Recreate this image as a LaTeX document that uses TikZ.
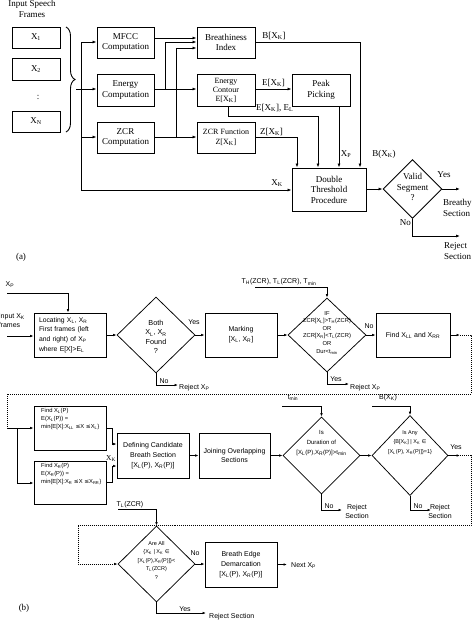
\documentclass[tikz,border=0pt]{standalone}
\usepackage{fontspec}
\setmainfont{Liberation Serif}
\setsansfont{Liberation Sans}
\newfontfamily\dejavu{DejaVu Sans}
\usetikzlibrary{arrows.meta,shapes.geometric,decorations.pathreplacing}
\newcommand{\sbs}[1]{\textsubscript{#1}}
\newcommand{\myle}{{\dejavu ≤}}
\newcommand{\myin}{{\dejavu ∈}}
\begin{document}
\begin{tikzpicture}[x=1pt,y=-1pt,
  lna/.style={line width=0.9pt},
  arra/.style={lna,-{Latex[length=4pt,width=3pt]}},
  lnb/.style={line width=0.75pt},
  arrb/.style={lnb,-{Latex[length=3.5pt,width=2.6pt]}},
  dotb/.style={lnb,dash pattern=on 1pt off 1pt},
  boxa/.style={draw,lna,inner sep=0pt,align=center,font=\fontsize{9}{10.5}\selectfont},
  boxb/.style={draw,lnb,inner sep=0pt,align=center,font=\sffamily\fontsize{7}{9.8}\selectfont},
  diaa/.style={draw,lna,diamond,inner sep=0pt},
  diab/.style={draw,lnb,diamond,inner sep=0pt},
  ta/.style={inner sep=0pt,align=center,font=\fontsize{9}{10.5}\selectfont},
  tb/.style={inner sep=0pt,align=center,font=\sffamily\fontsize{7}{9.6}\selectfont},
]
\useasboundingbox (0,0) rectangle (474,622);
\clip (0,0) rectangle (474,622);

% ---------------- (a) ----------------
\node[ta] (title) at (32,9) {Input Speech\\Frames};
\node[boxa,minimum width=48,minimum height=21] (x1) at (36,37.5) {X\sbs{1}};
\node[boxa,minimum width=48,minimum height=22] (x2) at (36,69) {X\sbs{2}};
\node[ta] (dots) at (38,97) {:};
\node[boxa,minimum width=48,minimum height=21] (xn) at (36,121.5) {X\sbs{N}};
\draw[lna,decorate,decoration={brace,amplitude=9pt}] (66,27) -- (66,132);

\coordinate (btip) at (76,89);
\coordinate (bus1) at (81,42);
\coordinate (bus3) at (81,190);

\node[boxa,minimum width=57,minimum height=31] (mfcc) at (125.5,42.5) {MFCC\\Computation};
\node[boxa,minimum width=57,minimum height=32] (energy) at (125.5,90) {Energy\\Computation};
\node[boxa,minimum width=57,minimum height=31] (zcr) at (125.5,137.5) {ZCR\\Computation};
\node[boxa,minimum width=58,minimum height=31] (breath) at (226,42.5) {Breathiness\\Index};
\node[boxa,minimum width=58,minimum height=32,font=\fontsize{8}{9}\selectfont] (contour) at (226,90) {Energy\\Contour\\E[X\sbs{K}]};
\node[boxa,minimum width=58,minimum height=31,font=\fontsize{8}{9.5}\selectfont] (zcrf) at (226,137.5) {ZCR Function\\Z[X\sbs{K}]};
\node[boxa,minimum width=58,minimum height=32] (peak) at (321,90) {Peak\\Picking};
\node[boxa,minimum width=74,minimum height=43] (dtp) at (329,189.5) {Double\\Threshold\\Procedure};
\node[diaa,minimum width=59,minimum height=59] (valid) at (412.5,189) {};
\node[ta] (validt) at (412.5,187) {Valid\\Segment\\?};

\draw[arra] (btip) -- (btip -| energy.west);
\draw[lna] (bus1) -- (bus3);
\draw[arra] (bus1) -- (bus1 -| mfcc.west);
\draw[arra] (bus1 |- 0,137) -- (zcr.west |- 0,137);
\draw[arra] (bus3) -- (bus3 -| dtp.west);
\draw[arra] (mfcc.east |- 0,38) -- (breath.west |- 0,38);
\draw[arra] (energy.east |- 0,89) -- (contour.west |- 0,89);
\coordinate (j1) at (165,89);
\draw[arra] (j1) -- (j1 |- 0,42) -- (breath.west |- 0,42);
\draw[arra] (zcr.east |- 0,137) -- (zcrf.west |- 0,137);
\coordinate (j2) at (176,137);
\draw[arra] (j2) -- (j2 |- 0,48) -- (breath.west |- 0,48);
\draw[arra] (breath.east |- 0,42) -| (dtp.north -| 360,0);
\draw[arra] (contour.east |- 0,89) -- (peak.west |- 0,89);
\draw[arra] (contour.south -| 228,0) -- (228,116) -- (318,116) -- (dtp.north -| 318,0);
\draw[arra] (zcrf.east |- 0,137) -| (dtp.north -| 297,0);
\draw[arra] (peak.south -| 339,0) -- (dtp.north -| 339,0);
\draw[arra] (dtp.east |- 0,189) -- (valid.west);
\coordinate (yesa) at (460,189);
\draw[arra] (valid.east) -- (yesa);
\coordinate (noa) at (460,236);
\draw[arra] (valid.south) |- (noa);

\node[ta] (lxk) at (277,183) {X\sbs{K}};
\node[ta] (lb) at (274,36) {B[X\sbs{K}]};
\node[ta] (le) at (273.5,83) {E[X\sbs{K}]};
\node[ta,anchor=west] (lel) at (256,108.5) {E[X\sbs{K}], E\sbs{L}};
\node[ta] (lz) at (271.5,131.5) {Z[X\sbs{K}]};
\node[ta] (lxp) at (346,154) {X\sbs{P}};
\node[ta] (lbx) at (384,154) {B(X\sbs{K})};
\node[ta] (lyes) at (444,175) {Yes};
\node[ta,anchor=west,align=left] (lbs) at (443,208) {Breathy\\Section};
\node[ta,anchor=east] (lno) at (411,223) {No};
\node[ta,anchor=west,align=left] (lrs) at (444,251) {Reject\\Section};
\node[ta] (la) at (21,257) {(a)};

% ---------------- (b) ----------------
\node[tb] (lxpin) at (10,285) {X\sbs{P}};
\coordinate (xpin) at (7,293);
\node[tb,anchor=east,align=left] (linput) at (25,320.5) {Input X\sbs{K}\\frames};
\coordinate (kin) at (7,336);
\node[boxb,minimum width=72,minimum height=44,text width=62,align=left,font=\sffamily\fontsize{6.8}{9.6}\selectfont] (loc) at (70,335) {Locating X\sbs{L}, X\sbs{R}\\First frames (left\\and right) of X\sbs{P}\\where E[X]>E\sbs{L}};
\draw[arrb] (xpin) -| (loc.north -| 68,0);
\draw[arrb] (kin) -- (kin -| loc.west);

\node[diab,minimum width=78,minimum height=76] (both) at (156,335) {};
\node[tb,font=\sffamily\fontsize{7.3}{9.4}\selectfont] (botht) at (156,337) {Both\\X\sbs{L}, X\sbs{R}\\Found\\?};
\draw[arrb] (loc.east) -- (both.west);
\node[boxb,minimum width=72,minimum height=44] (mark) at (241,335) {Marking\\{[X\sbs{L}, X\sbs{R}]}};
\draw[arrb] (both.east) -- (mark.west);
\node[tb] (lyes1) at (194,322) {Yes};
\coordinate (rej1) at (178,385);
\draw[arrb] (both.south) |- (rej1);
\node[tb] (lno1) at (164,381) {No};
\node[tb,anchor=west] (lrej1) at (179,387.5) {Reject X\sbs{P}};

\node[diab,minimum width=78,minimum height=74] (ifd) at (327,335) {};
\node[tb,font=\sffamily\fontsize{5.8}{7.6}\selectfont] (ifdt) at (327,332.5) {IF\\ZCR[X\sbs{L}]>T\sbs{H}(ZCR)\\OR\\ZCR[X\sbs{R}]<T\sbs{L}(ZCR)\\OR\\Dur<t\sbs{min}};
\node[tb] (lth) at (279,282) {T\sbs{H}(ZCR), T\sbs{L}(ZCR), T\sbs{min}};
\coordinate (thin) at (255,287);
\draw[arrb] (thin) -| (ifd.north);
\draw[arrb] (mark.east) -- (ifd.west);
\coordinate (rej2) at (349,384);
\draw[arrb] (ifd.south) |- (rej2);
\node[tb] (lyes2) at (336,379.5) {Yes};
\node[tb,anchor=west] (lrej2) at (350,387.5) {Reject X\sbs{P}};
\node[boxb,minimum width=74,minimum height=44] (findx) at (413,335) {Find X\sbs{LL} and X\sbs{RR}};
\draw[arrb] (ifd.east) -- (findx.west);
\node[tb] (lno2) at (369,326) {No};
\coordinate (fx1) at (460,335);
\draw[arrb] (findx.east) -- (fx1);
\coordinate (fx2) at (7,428);
\draw[dotb] (fx1) -- (471,335) -- (471,394) -- (7,394) -- (fx2);

\node[boxb,minimum width=72,minimum height=44] (findl) at (70,428) {};
\node[tb,anchor=north west,align=left,font=\sffamily\fontsize{5.8}{8}\selectfont] (findlt) at (41,408.5) {Find X\sbs{L}(P)\\E(X\sbs{L}(P)) =\\min\{E[X]:X\sbs{LL} \myle X \myle X\sbs{L}\}};
\node[boxb,minimum width=72,minimum height=43] (findr) at (70,482.5) {};
\node[tb,anchor=north west,align=left,font=\sffamily\fontsize{5.8}{8}\selectfont] (findrt) at (41,463) {Find X\sbs{R}(P)\\E(X\sbs{R}(P)) =\\min\{E[X]:X\sbs{R} \myle X \myle X\sbs{RR}\}};
\draw[arrb] (fx2) -- (fx2 -| findl.west);
\coordinate (fx3) at (17,428);
\draw[arrb] (fx3) |- (findr.west |- 0,483);

\node[boxb,minimum width=72,minimum height=45] (defn) at (153,455.5) {Defining Candidate\\Breath Section\\{[X\sbs{L}(P), X\sbs{R}(P)]}};
\draw[arrb] (findl.east) -- ++(6,0) |- (defn.west |- 0,444);
\draw[arrb] (findr.east |- 0,482) -- ++(6,0) |- (defn.west |- 0,466);
\node[ta,font=\fontsize{7.5}{9}\selectfont] (lxk2) at (111,459) {X\sbs{K}};

\node[boxb,minimum width=71,minimum height=45] (join) at (234.5,455.5) {Joining Overlapping\\Sections};
\draw[arrb] (defn.east) -- (join.west);
\node[diab,minimum width=77,minimum height=77] (dur) at (321.5,455.5) {};
\node[tb,font=\sffamily\fontsize{6}{9.8}\selectfont] (durt) at (321.5,443) {Is\\Duration of\\{[X\sbs{L}(P),X\sbs{R}(P)]>t\sbs{min}}};
\draw[arrb] (join.east) -- (dur.west);
\node[tb] (ltmin) at (293,398) {t\sbs{min}};
\coordinate (tmi) at (282,406);
\draw[arrb] (tmi) -| (dur.north);
\coordinate (rej3) at (342,510);
\draw[arrb] (dur.south) |- (rej3);
\node[tb] (lno3) at (329,506.5) {No};
\node[tb] (lrej3) at (357,511.5) {Reject\\Section};

\node[diab,minimum width=76,minimum height=80] (anyd) at (410,455.5) {};
\node[tb,font=\sffamily\fontsize{5.5}{9.5}\selectfont] (anyt) at (410,442.5) {Is Any\\\{B[X\sbs{K}] | X\sbs{K} \myin\\{}[X\sbs{L}(P), X\sbs{R}(P)]\}=1\}};
\draw[arrb] (dur.east) -- (anyd.west);
\node[tb] (lbxk) at (388,398) {B(X\sbs{K})};
\coordinate (bxi) at (372,406);
\draw[arrb] (bxi) -| (anyd.north);
\coordinate (rej4) at (431,510);
\draw[arrb] (anyd.south) |- (rej4);
\node[tb] (lno4) at (418,506.5) {No};
\node[tb] (lrej4) at (440,511.5) {Reject\\Section};
\coordinate (ya) at (460,455.5);
\draw[arrb] (anyd.east) -- (ya);
\node[tb] (lyes4) at (456,447) {Yes};

\node[diab,minimum width=77,minimum height=76] (are) at (156.5,564) {};
\draw[dotb,-{Latex[length=3.5pt,width=2.6pt]}] (ya) -- (471,455.5) -- (471,525) -- (78,525) -- (78,564) -- (are.west);
\node[tb,font=\sffamily\fontsize{5.5}{8.5}\selectfont] (aret) at (156.5,560) {Are All\\\{X\sbs{K} | X\sbs{K} \myin\\{}[X\sbs{L}(P),X\sbs{R}(P)]\}<\\T\sbs{L}(ZCR)\\?};
\node[tb] (ltl) at (130,505) {T\sbs{L}(ZCR)};
\coordinate (tli) at (118,509);
\draw[arrb] (tli) -| (are.north);
\node[boxb,minimum width=72,minimum height=45] (bedge) at (241,564.5) {Breath Edge\\Demarcation\\{[X\sbs{L}(P), X\sbs{R}(P)]}};
\draw[arrb] (are.east) -- (are.east -| bedge.west);
\node[tb] (lno5) at (195,553) {No};
\coordinate (nx) at (287,564.5);
\draw[arrb] (bedge.east) -- (nx);
\node[tb,anchor=west] (lnext) at (291,566) {Next X\sbs{P}};
\coordinate (rej5) at (206,613);
\draw[arrb] (are.south) |- (rej5);
\node[tb] (lyes5) at (185,609) {Yes};
\node[tb,anchor=west] (lrej5) at (209,617) {Reject Section};
\node[ta] (lbb) at (24,608) {(b)};
\end{tikzpicture}
\end{document}
